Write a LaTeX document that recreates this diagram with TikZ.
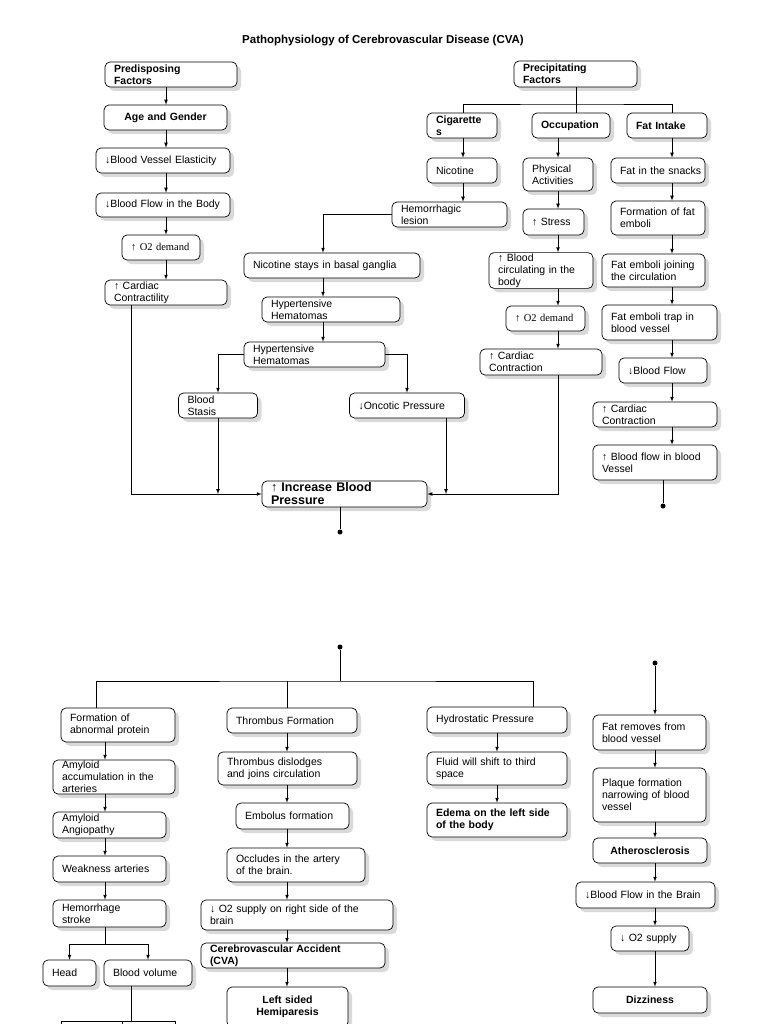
\documentclass[tikz,border=0pt]{standalone}
\usepackage{fontspec}
\setmainfont{Liberation Sans}
\newfontfamily\tnr{Liberation Serif}
\usetikzlibrary{arrows}
\usetikzlibrary{shadows}
\definecolor{shade1}{RGB}{180, 180, 180}

\tikzset{
  box/.style 2 args={draw, rounded corners=5pt, fill=white,
    drop shadow={shadow xshift=4pt, shadow yshift=-4pt, fill=shade1},
    minimum width=#1pt, minimum height=#2pt, text width=#1pt-18pt,
    inner xsep=9pt, inner ysep=1pt, align=left,
    execute at begin node={\rightskip=0pt plus 1fil minus 200pt},
    font=\fontsize{10.5}{12}\selectfont},
  bbox/.style={font=\fontsize{10.5}{12}\selectfont\bfseries},
  cbox/.style={bbox, align=center,
    execute at begin node={\leftskip=0pt plus 1fil\rightskip=0pt plus 1fil\parfillskip=0pt}},
  arr/.style={-latex},
  jdot/.style={circle, fill, inner sep=0pt, minimum size=5pt}
}

\begin{document}
\begin{tikzpicture}[x=1pt, y=-1pt, line width=0.7pt]
  \useasboundingbox (0,0) rectangle (768,1024);
  \node[font=\fontsize{11.5}{13}\selectfont\bfseries] (title) at (383,41) {Pathophysiology of Cerebrovascular Disease (CVA)};
  % predisposing side
  \node[box={132}{25}, bbox] (pre) at (171,74.5) {Predisposing\\Factors};
  \node[box={123}{25}, cbox] (age) at (165.5,117.5) {Age and Gender};
  \node[box={134}{25}] (bve) at (163,160.5) {↓Blood Vessel Elasticity};
  \node[box={134}{24}] (bfb) at (163,205) {↓Blood Flow in the Body};
  \node[box={78}{25}] (otwo) at (161,247.5) {↑ {\tnr O2 demand}};
  \node[box={122}{25}] (card) at (166,292.5) {↑ Cardiac\\Contractility};
  % precipitating side
  \node[box={123}{26}, bbox] (prec) at (575.5,74) {Precipitating\\Factors};
  \node[box={70}{25}, bbox] (cig) at (462,125.5) {Cigarette\\s};
  \node[box={78}{25}, bbox] (occ) at (571,125.5) {Occupation};
  \node[box={80}{25}, bbox] (fat) at (667,125.5) {Fat Intake};
  \node[box={70}{25}] (nic) at (462,170.5) {Nicotine};
  \node[box={115}{25}] (hem) at (449.5,214.5) {Hemorrhagic\\lesion};
  \node[box={70}{33}] (phys) at (558,174.5) {Physical\\Activities};
  \node[box={61}{26}] (stress) at (553.5,222) {↑ Stress};
  \node[box={104}{33}] (bcirc) at (541,270.5) {↑ Blood\\circulating in the\\body};
  \node[box={79}{25}] (otwor) at (545.5,318.5) {↑ {\tnr O2 demand}};
  \node[box={122}{26}] (cardr) at (541,362) {↑ Cardiac\\Contraction};
  \node[box={94}{25}] (snack) at (658,170.5) {Fat in the snacks};
  \node[box={94}{34}] (femb) at (658,218) {Formation of fat\\emboli};
  \node[box={103}{33}] (fjoin) at (653.5,270.5) {Fat emboli joining\\the circulation};
  \node[box={115}{35}] (ftrap) at (659.5,322.5) {Fat emboli trap in\\blood vessel};
  \node[box={88}{25}] (bflow) at (663,370.5) {↓Blood Flow};
  \node[box={124}{25}] (cardf) at (655,414.5) {↑ Cardiac\\Contraction};
  \node[box={124}{35}] (bfv) at (655,462.5) {↑ Blood flow in blood\\Vessel};
  % middle
  \node[box={176}{25}] (nsb) at (332,265.5) {Nicotine stays in basal ganglia};
  \node[box={138}{25}] (hh1) at (331,309.5) {Hypertensive\\Hematomas};
  \node[box={141}{25}] (hh2) at (314.5,354.5) {Hypertensive\\Hematomas};
  \node[box={79}{25}] (stasis) at (218,405.5) {Blood\\Stasis};
  \node[box={115}{25}] (onc) at (407,405.5) {↓Oncotic Pressure};
  \node[box={165}{26}, font=\fontsize{12.5}{13}\selectfont\bfseries] (ibp) at (344.5,494) {↑ Increase Blood\\Pressure};
  \node[jdot] (d1) at (340,532) {};
  \node[jdot] (d2) at (663,506) {};

  \coordinate (cL) at (166,0);
  \coordinate (cC) at (463,0);
  \coordinate (cO) at (558,0);
  \coordinate (cF) at (672,0);
  \coordinate (cM) at (323,0);
  \coordinate (cP) at (446,0);
  \coordinate (cQ) at (131,0);
  \coordinate (pj) at (576,104);
  \foreach \from/\to in {pre/age, age/bve, bve/bfb, bfb/otwo, otwo/card}
    \draw[arr] (\from.south -| cL) -- (\to.north -| cL);
  \foreach \from/\to in {cig/nic, nic/hem}
    \draw[arr] (\from.south -| cC) -- (\to.north -| cC);
  \foreach \from/\to in {occ/phys, phys/stress, stress/bcirc, bcirc/otwor, otwor/cardr}
    \draw[arr] (\from.south -| cO) -- (\to.north -| cO);
  \foreach \from/\to in {fat/snack, snack/femb, femb/fjoin, fjoin/ftrap, ftrap/bflow, bflow/cardf, cardf/bfv}
    \draw[arr] (\from.south -| cF) -- (\to.north -| cF);
  \foreach \from/\to in {nsb/hh1, hh1/hh2}
    \draw[arr] (\from.south -| cM) -- (\to.north -| cM);
  \draw (prec.south -| pj) -- (pj);
  \draw (cig.north -| cC) |- (pj) -| (fat.north -| cF);
  \draw (pj) -- (occ.north -| pj);
  \draw[arr] (hem.west) -| (nsb.north -| cM);
  \draw[arr] (hh2.west) -| (stasis.north);
  \draw[arr] (hh2.east) -| (onc.north);
  \draw[arr] (card.south -| cQ) |- (ibp.west);
  \draw[arr] (stasis.south) -- (stasis.south |- ibp.west);
  \draw[arr] (onc.south -| cP) -- (cP |- ibp.east);
  \draw[arr] (cardr.south -| cO) |- (ibp.east);
  \draw (ibp.south -| d1) -- (d1);
  \draw (bfv.south -| d2) -- (d2);

  % second part
  \node[jdot] (d3) at (340,647) {};
  \node[jdot] (d4) at (655,663) {};
  \node[box={114}{34}] (abn) at (118,725) {Formation of\\abnormal protein};
  \node[box={122}{34}] (amy) at (114,777) {Amyloid\\accumulation in the\\arteries};
  \node[box={113}{26}] (ang) at (109.5,825) {Amyloid\\Angiopathy};
  \node[box={113}{26}] (weak) at (109.5,869) {Weakness arteries};
  \node[box={113}{27}] (hst) at (109.5,913.5) {Hemorrhage\\stroke};
  \node[box={53}{26}] (head) at (69.5,973) {Head};
  \node[box={88}{26}] (bvol) at (148,973) {Blood volume};
  \node[box={130}{25}] (thr) at (292,720.5) {Thrombus Formation};
  \node[box={139}{33}] (dis) at (287.5,768.5) {Thrombus dislodges\\and joins circulation};
  \node[box={113}{26}] (emb) at (292.5,816) {Embolus formation};
  \node[box={138}{34}] (occl) at (296,865) {Occludes in the artery\\of the brain.};
  \node[box={192}{30}] (otwos) at (297,915) {↓ O2 supply on right side of the\\brain};
  \node[box={184}{25}, bbox] (cva) at (293,955.5) {Cerebrovascular Accident\\(CVA)};
  \node[box={121}{40}, cbox] (lsh) at (287.5,1007) {Left sided\\Hemiparesis};
  \node[box={140}{26}] (hyd) at (497,720) {Hydrostatic Pressure};
  \node[box={140}{33}] (fluid) at (497,768.5) {Fluid will shift to third\\space};
  \node[box={140}{34}, bbox] (edema) at (497,820) {Edema on the left side\\of the body};
  \node[box={113}{35}] (frem) at (649.5,732.5) {Fat removes from\\blood vessel};
  \node[box={113}{54}] (plq) at (649.5,795) {Plaque formation\\narrowing of blood\\vessel};
  \node[box={114}{25}, cbox] (ath) at (650,850.5) {Atherosclerosis};
  \node[box={139}{26}] (bfbr) at (645.5,895) {↓Blood Flow in the Brain};
  \node[box={78}{25}] (otwo2) at (650,938.5) {↓ O2 supply};
  \node[box={114}{26}, cbox] (diz) at (650,1000) {Dizziness};

  \coordinate (bj) at (340,681);
  \coordinate (hj) at (105,944);
  \coordinate (tb) at (131,1021);
  \coordinate (cA) at (96,0);
  \coordinate (cB) at (105,0);
  \coordinate (cT) at (287,0);
  \coordinate (cH) at (533,0);
  \coordinate (cW) at (497,0);
  \coordinate (cR) at (655,0);
  \draw (d3) -- (bj);
  \draw (abn.north -| cA) |- (bj) -| (hyd.north -| cH);
  \draw (bj -| cT) -- (thr.north -| cT);
  \foreach \from/\to in {abn/amy, amy/ang, ang/weak, weak/hst}
    \draw[arr] (\from.south -| cB) -- (\to.north -| cB);
  \foreach \from/\to in {thr/dis, dis/emb, emb/occl, occl/otwos, otwos/cva, cva/lsh}
    \draw[arr] (\from.south -| cT) -- (\to.north -| cT);
  \foreach \from/\to in {hyd/fluid, fluid/edema}
    \draw[arr] (\from.south -| cW) -- (\to.north -| cW);
  \foreach \from/\to in {frem/plq, plq/ath, ath/bfbr, bfbr/otwo2, otwo2/diz}
    \draw[arr] (\from.south -| cR) -- (\to.north -| cR);
  \draw[arr] (d4) -- (frem.north -| d4);
  \draw (hst.south -| hj) -- (hj);
  \draw[arr] (hj) -| (head.north);
  \draw[arr] (hj) -| (bvol.north);
  \draw (bvol.south -| tb) -- (tb);
  % table cut off at the page edge
  \draw (61,1035) |- (175,1021) -- (175,1035);
  \draw (122,1021) -- (122,1035);
\end{tikzpicture}
\end{document}
